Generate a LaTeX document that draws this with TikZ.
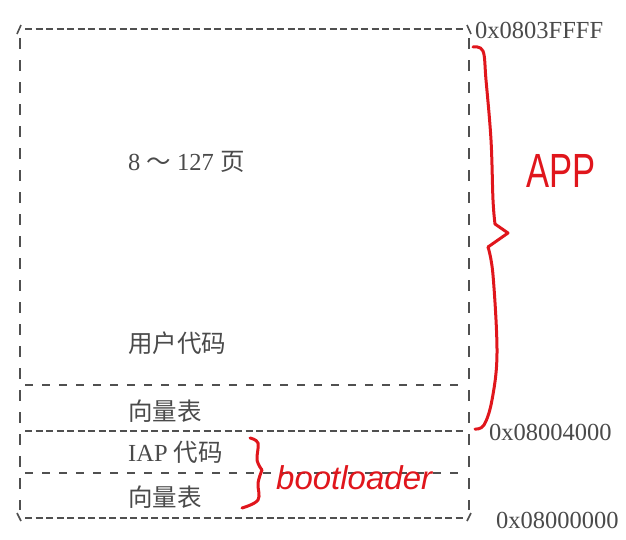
\documentclass[tikz,border=0pt]{standalone}
\usepackage{fontspec}
\usepackage{graphicx}
\setmainfont{Liberation Serif}
\newfontfamily\cjk{Noto Sans CJK SC}
\newfontfamily\hand{Liberation Sans}
\definecolor{frm}{HTML}{505050}
\definecolor{txt}{HTML}{4A4A4A}
\definecolor{pen}{HTML}{E0161C}
\begin{document}
\begin{tikzpicture}[x=1pt,y=-1pt,
  lbl/.style={text=txt, font=\fontsize{24.5}{27}\selectfont, inner sep=0pt, anchor=west},
  vline/.style={draw=frm, line width=2pt, dash pattern=on 11pt off 11pt},
  sparse/.style={draw=frm, line width=1.4pt, dash pattern=on 8pt off 9pt},
  dense/.style={draw=frm, line width=1.4pt, dash pattern=on 7pt off 3.5pt},
  corner/.style={draw=frm, line width=1.6pt},
  redpen/.style={draw=pen, line width=3pt, line cap=round, line join=round},
  handtxt/.style={text=pen, inner sep=0pt}]
\useasboundingbox (0,0) rectangle (626,539);

% frame coordinates
\coordinate (tl) at (20,29);
\coordinate (tr) at (469,29);
\coordinate (bl) at (20,518);
\coordinate (br) at (469,518);

% outer frame
\draw[dense] (25,29) -- (464,29);
\draw[dense] (25,518) -- (464,518);
\draw[vline] (20,38) -- (20,510);
\draw[vline] (469,38) -- (469,510);
\draw[corner] (17,34) -- (21,25);
\draw[corner] (467,25) -- (471,34);
\draw[corner] (17,513) -- (21,521);
\draw[corner] (467,521) -- (471,513);

% inner separators
\draw[sparse] (25,385) -- (464,385);
\draw[dense] (25,431) -- (464,431);
\draw[sparse] (25,473) -- (464,473);

% region labels
\node[lbl] (pages) at (128,162) {8 {\cjk ～} 127 {\cjk 页}};
\node[lbl] (user) at (128,343) {\cjk 用户代码};
\node[lbl] (vec1) at (128,411) {\cjk 向量表};
\node[lbl] (iap) at (128,452) {IAP {\cjk 代码}};
\node[lbl] (vec0) at (128,497) {\cjk 向量表};

% addresses
\node[lbl] (a3) at (475,30) {0x0803FFFF};
\node[lbl] (a1) at (489,432) {0x08004000};
\node[lbl] (a0) at (496,520) {0x08000000};

% red hand annotations
\draw[redpen] plot[smooth, tension=0.6] coordinates {(473,47) (483,51) (486,80) (491,140) (493,200) (495,224)}
  -- (508,233) -- (488,247);
\draw[redpen] plot[smooth, tension=0.6] coordinates {(488,247) (493,275) (497,353) (492,400) (484,425) (475,429)};
\node[handtxt, font=\hand\fontsize{48}{50}\selectfont] (app) at (561,171) {\scalebox{0.72}[1]{APP}};

\draw[redpen] plot[smooth, tension=0.6] coordinates {(250,438) (258,443) (257,460) (262,470)};
\draw[redpen] plot[smooth, tension=0.6] coordinates {(262,470) (258,483) (258,500) (242,508)};
\node[handtxt, font=\hand\itshape\fontsize{33}{35}\selectfont, anchor=west] (boot) at (276,478) {bootloader};
\end{tikzpicture}
\end{document}
